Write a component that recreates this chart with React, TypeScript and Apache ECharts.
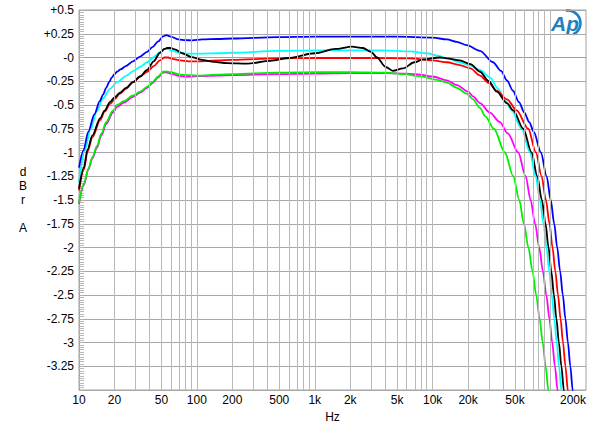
import React, { useEffect, useRef } from "react";
import * as echarts from "echarts";

// ---- axis / tick data ----
const gridMultipliers = [1, 2, 3, 4, 5, 6, 7, 8, 9];
const gridDecades = [10, 100, 1000, 10000, 100000];
const xLabelHz = [10, 20, 50, 100, 200, 500, 1000, 2000, 5000, 10000, 20000, 50000, 200000];
const xLabelText = ["10", "20", "50", "100", "200", "500", "1k", "2k", "5k", "10k", "20k", "50k", "200k"];

// ---- series: [frequency Hz, level dBr] ----
const blue: [number, number][] = [
  [10, -1.16], [10.9, -0.98], [12, -0.78], [13.5, -0.6], [15, -0.46], [16, -0.39], [17, -0.32],
  [18, -0.26], [19, -0.21], [20, -0.175], [21, -0.15], [22.5, -0.125], [25, -0.09], [28.7, -0.04],
  [33, 0.01], [37.8, 0.06], [42, 0.11], [47, 0.17], [51.6, 0.222], [55, 0.235], [60, 0.22],
  [70, 0.19], [80, 0.183], [90, 0.18], [100, 0.185], [112, 0.19], [150, 0.195], [200, 0.2],
  [480, 0.215], [1000, 0.22], [5000, 0.22], [10000, 0.21], [13200, 0.19], [16000, 0.165],
  [19500, 0.13], [25200, 0.07], [32500, -0.05], [38000, -0.14], [42700, -0.24], [48000, -0.35],
  [54000, -0.47], [60000, -0.58], [66000, -0.68], [72000, -0.78], [82900, -1.0], [92700, -1.25],
  [100400, -1.5], [107500, -1.75], [114000, -2.0], [120600, -2.25], [127200, -2.5], [133800, -2.75],
  [140500, -3.0], [147200, -3.25], [154200, -3.5], [161300, -3.75],
];

const cyan: [number, number][] = [
  [10, -1.31], [11.2, -0.98], [12.5, -0.76], [14.1, -0.57], [16, -0.43], [18.3, -0.33], [21, -0.26],
  [25.4, -0.19], [29, -0.14], [32.9, -0.1], [37.8, -0.05], [42.5, 0.0], [48, 0.05], [53.6, 0.088],
  [57, 0.088], [62, 0.072], [70, 0.05], [80, 0.04], [106, 0.04], [150, 0.045], [200, 0.05],
  [480, 0.07], [1000, 0.075], [3570, 0.075], [6400, 0.065], [8950, 0.045], [11000, 0.02],
  [13500, -0.01], [17000, -0.05], [20900, -0.085], [25200, -0.13], [30600, -0.21], [36000, -0.33],
  [41000, -0.45], [46800, -0.556], [56900, -0.75], [66900, -1.0], [74800, -1.25], [81300, -1.5],
  [87200, -1.75], [92500, -2.0], [97500, -2.25], [102600, -2.5], [107700, -2.75], [112900, -3.0],
  [118100, -3.25], [123500, -3.5], [129200, -3.75],
];

const red: [number, number][] = [
  [10, -1.4], [11, -1.18], [11.8, -0.99], [13, -0.84], [15.1, -0.66], [16.5, -0.57], [18.3, -0.49],
  [20, -0.44], [22.3, -0.38], [25, -0.33], [28.7, -0.26], [33, -0.2], [37.8, -0.15], [43, -0.09],
  [48.6, -0.03], [53, 0.0], [57, 0.0], [62, -0.015], [72, -0.03], [85, -0.04], [106, -0.04],
  [150, -0.03], [200, -0.025], [480, -0.01], [1000, -0.005], [3000, -0.005], [6400, -0.01],
  [10000, -0.03], [13200, -0.05], [17000, -0.08], [20900, -0.115], [25200, -0.19], [30000, -0.27],
  [35000, -0.35], [42700, -0.44], [51600, -0.556], [64700, -0.75], [75200, -1.0], [84000, -1.25],
  [91400, -1.5], [98100, -1.75], [104000, -2.0], [109800, -2.25], [115800, -2.5], [121600, -2.75],
  [127600, -3.0], [133800, -3.25], [140200, -3.5], [146600, -3.75],
];

const black: [number, number][] = [
  [10, -1.38], [11, -1.16], [11.8, -0.97], [13, -0.82], [15.1, -0.64], [16.5, -0.56], [18.3, -0.47],
  [20, -0.42], [22.3, -0.37], [25, -0.32], [28.7, -0.26], [33, -0.2], [37.8, -0.13], [43, -0.04],
  [48.6, 0.05], [53, 0.09], [56, 0.1], [60, 0.1], [65, 0.085], [75, 0.045], [90, 0.005],
  [110, -0.025], [140, -0.045], [180, -0.06], [266, -0.065], [420, -0.035], [600, -0.005],
  [1000, 0.045], [1500, 0.09], [2070, 0.115], [2560, 0.1], [3000, 0.06], [3370, 0.0], [4000, -0.1],
  [4600, -0.14], [5600, -0.115], [7000, -0.05], [8300, -0.02], [11500, 0.0], [13200, -0.01],
  [17000, -0.03], [20900, -0.07], [25200, -0.15], [30000, -0.25], [35000, -0.36], [42700, -0.48],
  [48300, -0.556], [58700, -0.75], [69100, -1.0], [77200, -1.25], [84500, -1.5], [90700, -1.75],
  [96200, -2.0], [101600, -2.25], [106900, -2.5], [112200, -2.75], [117800, -3.0], [123700, -3.25],
  [129700, -3.5], [135600, -3.75],
];

const magenta: [number, number][] = [
  [10, -1.54], [11, -1.34], [12, -1.18], [13, -1.06], [14.2, -0.95], [15.5, -0.82], [17, -0.7],
  [19.4, -0.58], [21, -0.52], [24, -0.475], [28.7, -0.415], [33, -0.37], [37.8, -0.32], [42, -0.27],
  [47, -0.21], [51.6, -0.16], [55, -0.155], [60, -0.17], [72, -0.195], [85, -0.2], [106, -0.195],
  [150, -0.19], [200, -0.185], [480, -0.175], [1000, -0.17], [2000, -0.165], [4000, -0.165],
  [6000, -0.17], [7800, -0.18], [10000, -0.2], [13200, -0.24], [16100, -0.29], [20000, -0.36],
  [22000, -0.41], [25200, -0.48], [30600, -0.58], [37200, -0.68], [43500, -0.8], [53200, -1.0],
  [61500, -1.25], [67800, -1.5], [74000, -1.75], [80200, -2.0], [86200, -2.25], [92100, -2.5],
  [97900, -2.75], [103400, -3.0], [109000, -3.25], [114700, -3.5], [120400, -3.75],
];

const green: [number, number][] = [
  [10, -1.53], [11, -1.33], [12, -1.17], [13, -1.05], [14.2, -0.93], [15.5, -0.8], [17, -0.68],
  [19.4, -0.56], [21, -0.5], [24, -0.46], [28.7, -0.4], [33, -0.36], [37.8, -0.31], [42, -0.26],
  [47, -0.2], [51.6, -0.15], [55, -0.145], [60, -0.155], [72, -0.18], [85, -0.185], [106, -0.19],
  [150, -0.18], [200, -0.175], [480, -0.16], [1000, -0.155], [2000, -0.155], [4000, -0.16],
  [5600, -0.175], [7800, -0.195], [10900, -0.235], [13200, -0.265], [16100, -0.32], [19400, -0.38],
  [22000, -0.44], [25200, -0.53], [28000, -0.62], [33100, -0.75], [41000, -1.0], [48300, -1.25],
  [54300, -1.5], [59500, -1.75], [64900, -2.0], [70400, -2.25], [75600, -2.5], [80800, -2.75],
  [85900, -3.0], [90900, -3.25], [95800, -3.5], [100800, -3.75],
];

const FONT = "'Liberation Sans', Arial, Helvetica, sans-serif";
const LOGO = "#1e7fc3";

export default function App() {
  const ref = useRef<HTMLDivElement>(null);

  useEffect(() => {
    if (!ref.current) return;
    const chart = echarts.init(ref.current, null, { renderer: "svg" });
    const lg = (f: number) => Math.log10(f);
    const toXY = (arr: [number, number][]) => arr.map(([f, d]) => [lg(f), d]);

    const gridHz: number[] = [];
    gridDecades.forEach((d) =>
      gridMultipliers.forEach((m) => {
        const f = d * m;
        if (f > 10 && f < 200000) gridHz.push(f);
      })
    );

    const lineSeries = (name: string, data: [number, number][], color: string) => ({
      name,
      type: "line",
      data: toXY(data),
      showSymbol: false,
      symbol: "none",
      smooth: 0.3,
      smoothMonotone: "x",
      clip: true,
      z: 3,
      lineStyle: { color, width: 1.8 },
    });

    const yFmt = (v: number) => {
      const r = Math.round(v * 100) / 100;
      if (Math.abs(r) < 1e-9) return "-0";
      return r > 0 ? "+" + r : String(r);
    };

    const xFmt = (v: number) => {
      let best = 0;
      xLabelHz.forEach((f, i) => {
        if (Math.abs(lg(f) - v) < Math.abs(lg(xLabelHz[best]) - v)) best = i;
      });
      return xLabelText[best];
    };

    chart.setOption({
      animation: false,
      textStyle: { fontFamily: FONT },
      grid: {
        left: 79,
        right: 14,
        top: 10,
        bottom: 43,
        show: true,
        borderColor: "#a0a0a0",
        borderWidth: 1,
        backgroundColor: "#fff",
      },
      xAxis: {
        type: "value",
        min: 1,
        max: lg(200000),
        axisLine: { show: true, lineStyle: { color: "#a0a0a0" } },
        axisTick: { show: false },
        splitLine: { show: false },
        axisLabel: {
          customValues: xLabelHz.map(lg),
          formatter: xFmt,
          color: "#000",
          fontSize: 12,
          fontFamily: FONT,
          margin: 4,
          alignMaxLabel: "right",
        },
        name: "Hz",
        nameLocation: "middle",
        nameGap: 20,
        nameTextStyle: { color: "#000", fontSize: 12, fontFamily: FONT },
      },
      yAxis: {
        type: "value",
        min: -3.5,
        max: 0.5,
        interval: 0.25,
        axisLine: { show: true, lineStyle: { color: "#a0a0a0" } },
        axisTick: { show: true, inside: true, length: 5, lineStyle: { color: "#b0b0b0" } },
        minorTick: { show: true, splitNumber: 10, length: 5, lineStyle: { color: "#b8b8b8" } },
        splitLine: { show: true, lineStyle: { color: "#a8a8a8", width: 1 } },
        axisLabel: {
          showMinLabel: false,
          formatter: yFmt,
          color: "#000",
          fontSize: 12,
          fontFamily: FONT,
          margin: 5,
        },
      },
      graphic: [
        {
          type: "text",
          x: 23,
          y: 165,
          style: {
            text: "d\nB\nr\n\nA",
            fill: "#000",
            fontSize: 12,
            fontFamily: FONT,
            lineHeight: 14,
            align: "center",
            textAlign: "center",
            verticalAlign: "top",
          },
        },
        {
          type: "text",
          x: 551,
          y: 23,
          style: {
            text: "Ap",
            fill: LOGO,
            fontSize: 21,
            fontStyle: "italic",
            fontWeight: "bold",
            fontFamily: FONT,
            align: "left",
            textAlign: "left",
            verticalAlign: "middle",
            textVerticalAlign: "middle",
          },
        },
        {
          type: "arc",
          shape: { cx: 568, cy: 23, r: 12.5, startAngle: -1.75, endAngle: 1.15, clockwise: true },
          style: { stroke: LOGO, lineWidth: 2.5, fill: "none" },
        },
      ],
      series: [
        {
          type: "line",
          data: [],
          z: 1,
          silent: true,
          markLine: {
            silent: true,
            symbol: ["none", "none"],
            label: { show: false },
            lineStyle: { color: "#b8b8b8", width: 1, type: "solid" },
            emphasis: { disabled: true },
            data: gridHz.map((f) => ({ xAxis: lg(f) })),
          },
        },
        lineSeries("magenta", magenta, "#ff00ff"),
        lineSeries("green", green, "#00ee00"),
        lineSeries("cyan", cyan, "#00ffff"),
        lineSeries("red", red, "#ff0000"),
        lineSeries("black", black, "#000000"),
        lineSeries("blue", blue, "#0000ff"),
      ],
    });

    return () => chart.dispose();
  }, []);

  return (
    <div
      ref={ref}
      style={{ position: "fixed", left: 0, top: 0, width: 600, height: 433, background: "#fff" }}
    />
  );
}
